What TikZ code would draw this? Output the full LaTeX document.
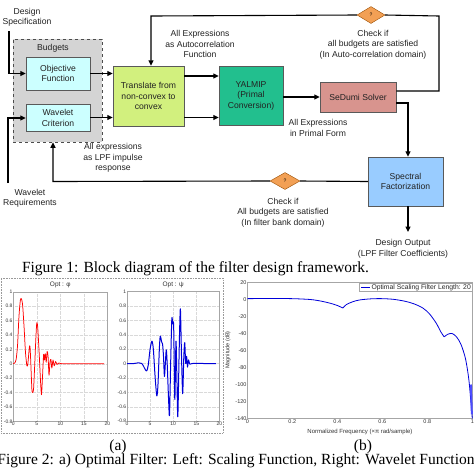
\documentclass[tikz,border=0pt]{standalone}
\usepackage{fontspec}
\setmainfont{Liberation Serif}
\newfontfamily\arial{Liberation Sans}
\usetikzlibrary{arrows.meta,shapes.geometric}
\definecolor{cyanbox}{HTML}{CCFFFF}
\definecolor{limebox}{HTML}{D2F07E}
\definecolor{tealbox}{HTML}{22BF8E}
\definecolor{pinkbox}{HTML}{D8948E}
\definecolor{bluebox}{HTML}{99CCFF}
\definecolor{orangedia}{HTML}{F2A055}
\definecolor{budgray}{HTML}{D4D4D4}
\definecolor{txt}{HTML}{222222}
\begin{document}
\begin{tikzpicture}[x=1pt,y=-1pt,
  lbl/.style={font=\arial\fontsize{8.6}{10.5}\selectfont, align=center, inner sep=0pt, text=txt},
  blk/.style={draw=gray!70!black, line width=0.5pt, align=center, inner sep=0pt,
              font=\arial\fontsize{8.6}{10.5}\selectfont, text=txt},
  dia/.style={shape=diamond, draw=orange!60!black, line width=0.4pt, fill=orangedia,
              minimum width=28pt, minimum height=17pt, inner sep=0pt,
              font=\arial\fontsize{5}{6}\selectfont},
  conn/.style={line width=1.1pt, black},
  arr/.style={conn, -{Triangle[length=5.5pt,width=5pt]}},
  gridl/.style={gray!30, line width=0.3pt, densely dotted},
  axl/.style={gray!70, line width=0.4pt},
  ticklbl/.style={font=\arial\fontsize{5}{6}\selectfont, inner sep=0.6pt, text=black!80},
  ttl/.style={font=\arial\fontsize{6.5}{7}\selectfont, inner sep=0pt, text=black!80},
  captxt/.style={font=\fontsize{15.5}{18}\selectfont, inner sep=0pt, text=black}
]
\useasboundingbox (0,0) rectangle (474,467);
\clip (0,0) rectangle (474,467);

% ---------------- block diagram ----------------
\node[draw=black!70, dashed, line width=0.6pt, fill=budgray, minimum width=89pt, minimum height=103pt] (bud) at (57.5,90.5) {};
\node[lbl] (budl) at (53,48) {Budgets};
\node[blk, fill=cyanbox, minimum width=64pt, minimum height=33pt] (obj) at (58,73.5) {Objective\\Function};
\node[blk, fill=cyanbox, minimum width=64pt, minimum height=27pt] (wav) at (58,118) {Wavelet\\Criterion};
\node[blk, fill=limebox, minimum width=71pt, minimum height=60pt] (trans) at (148.5,96) {Translate from\\non-convex to\\convex};
\node[blk, fill=tealbox, minimum width=64pt, minimum height=59pt] (yal) at (251,95.5) {YALMIP\\(Primal\\Conversion)};
\node[blk, fill=pinkbox, minimum width=76pt, minimum height=30pt] (sed) at (358,97) {SeDumi Solver};
\node[blk, fill=bluebox, minimum width=75pt, minimum height=49pt] (spec) at (405.5,181.5) {Spectral\\Factorization};
\node[dia] (d1) at (371,15) {?};
\node[dia, minimum width=30pt] (d2) at (285,181) {?};

\node[lbl] (ds) at (27,17.5) {Design\\Specification};
\node[lbl] (wr) at (30,198.5) {Wavelet\\Requirements};
\node[lbl] (t1) at (200,44) {All Expressions\\as Autocorrelation\\Function};
\node[lbl] (t2) at (373,44.5) {Check if\\all budgets are satisfied\\(In Auto-correlation domain)};
\node[lbl] (t3) at (318,128) {All Expressions\\in Primal Form};
\node[lbl] (t4) at (113,158) {All expressions\\as LPF impulse\\response};
\node[lbl] (t5) at (283,212.5) {Check if\\All budgets are satisfied\\(In filter bank domain)};
\node[lbl] (dout) at (403,249) {Design Output\\(LPF Filter Coefficients)};

\coordinate (dsin) at (9,31);
\coordinate (wrin) at (8,183);
\coordinate (r1) at (0,76);
\coordinate (r2) at (0,117.5);
\coordinate (c1) at (439,16);
\coordinate (c2) at (151,16);
\coordinate (c4) at (53,181.5);
\coordinate (oend) at (408,232);

\draw[arr] (dsin) |- (obj.west);
\draw[arr] (wrin) |- (wav.west);
\draw[arr] (obj.east) -- (obj.east -| trans.west);
\draw[arr] (wav.east |- r2) -- (trans.west |- r2);
\draw[arr] (trans.east |- r1) -- (yal.west |- r1);
\draw[arr] (trans.east |- r2) -- (yal.west |- r2);
\draw[arr] (yal.east |- sed.west) -- (sed.west);
\draw[conn] ([yshift=6pt]sed.east) -| (c1) -- (d1.east);
\draw[arr] (d1.west) -- (c2) -- (c2 |- trans.north);
\draw[arr] ([yshift=-6pt]sed.east) -| ([xshift=2.5pt]spec.north);
\draw[arr] ([xshift=2.5pt]spec.south) -- (oend);
\draw[conn] (spec.west) -- (d2.east);
\draw[arr] (d2.west) -- (c4) -- (c4 |- bud.south);

% ---------------- captions ----------------
\node[captxt, anchor=base] (cap1) at (195.5,272) {Figure 1: Block diagram of the filter design framework.};
\node[captxt, anchor=base] (capa) at (118,450) {(a)};
\node[captxt, anchor=base] (capb) at (363,450) {(b)};
\node[captxt, anchor=base] (cap2) at (236,464.5) {Figure 2: a) Optimal Filter: Left: Scaling Function, Right: Wavelet Function};

% ---------------- panel (a) ----------------
\node[draw=gray!80, densely dotted, line width=0.6pt, minimum width=222pt, minimum height=155pt, inner sep=0pt] (pa) at (112,355.5) {};

\begin{scope}[shift={(13.3pt,-363.7pt)},x=4.7pt,y=72pt]
  \foreach \u in {5,10,15} \draw[gridl] (\u,-0.8) -- (\u,1);
  \foreach \v in {-0.6,-0.4,-0.2,0,0.2,0.4,0.6,0.8} \draw[gridl] (0,\v) -- (20,\v);
  \draw[axl] (0,-0.8) rectangle (20,1);
  \foreach \v/\t [count=\i] in {1/1,0.8/0.8,0.6/0.6,0.4/0.4,0.2/0.2,0/0,-0.2/-0.2,-0.4/-0.4,-0.6/-0.6,-0.8/-0.8}
    \node[ticklbl, anchor=east] (ly\i) at (0,\v) {\t};
  \foreach \u [count=\i] in {0,5,10,15,20}
    \node[ticklbl, anchor=north] (lx\i) at (\u,-0.8) {\u};
  \node[ttl] (tl) at (10,1.09) {Opt : φ};
  \draw[red, line width=0.75pt, line join=round] plot[smooth, tension=0.45] coordinates {
    (0,0) (0.3,0.01) (0.6,0.06) (0.9,0.25) (1.2,0.65) (1.5,0.88) (1.75,0.9) (2.0,0.8)
    (2.3,0.5) (2.6,0.15) (2.9,-0.03) (3.1,0.0) (3.4,0.22) (3.55,0.24) (3.7,0.05)
    (3.95,-0.35) (4.1,-0.4) (4.3,-0.36) (4.5,-0.1) (4.8,0.35) (5.0,0.57) (5.2,0.5)
    (5.5,0.15) (5.8,-0.25) (6.0,-0.43) (6.2,-0.2) (6.45,0.13) (6.6,0.05) (6.8,0.14)
    (7.0,0.02) (7.2,0.17) (7.4,0.1) (7.6,-0.16) (7.8,0.02) (8.0,0.06) (8.2,-0.06)
    (8.45,0.05) (8.7,-0.03) (9.0,0.03) (9.3,-0.01) (9.7,0.01) (10.3,0) (14,0) (19.3,0)};
\end{scope}

\begin{scope}[shift={(127pt,-363.5pt)},x=4.62pt,y=72pt]
  \foreach \u in {5,10,15} \draw[gridl] (\u,-0.8) -- (\u,1);
  \foreach \v in {-0.6,-0.4,-0.2,0,0.2,0.4,0.6,0.8} \draw[gridl] (0,\v) -- (20,\v);
  \draw[axl] (0,-0.8) rectangle (20,1);
  \foreach \v/\t [count=\i] in {1/1,0.8/0.8,0.6/0.6,0.4/0.4,0.2/0.2,0/0,-0.2/-0.2,-0.4/-0.4,-0.6/-0.6,-0.8/-0.8}
    \node[ticklbl, anchor=east] (ry\i) at (0,\v) {\t};
  \foreach \u [count=\i] in {0,5,10,15,20}
    \node[ticklbl, anchor=north] (rx\i) at (\u,-0.8) {\u};
  \node[ttl] (tr) at (10,1.09) {Opt : ψ};
  \draw[blue!85!black, line width=1pt, line join=round] plot[smooth, tension=0.45] coordinates {
    (0,0) (1.5,0) (2.5,0.01) (3.2,0.0) (3.6,-0.04) (4.0,-0.09) (4.3,-0.1) (4.6,-0.02)
    (5.0,0.2) (5.4,0.31) (5.7,0.2) (6.1,-0.2) (6.45,-0.45) (6.7,-0.3) (7.0,0.2)
    (7.2,0.38) (7.5,0.3) (7.7,0.27) (7.9,0.1) (8.1,-0.18) (8.3,0.0) (8.5,0.19)
    (8.7,0.0) (9.0,-0.5) (9.2,-0.72) (9.45,0.0) (9.7,0.62) (9.9,0.55) (10.1,0.52)
    (10.35,-0.5) (10.6,0.31) (10.8,-0.2) (11.0,-0.74) (11.3,0.2) (11.55,0.76)
    (11.8,0.1) (12.05,-0.42) (12.3,0.1) (12.5,0.29) (12.7,0.0) (12.9,0.1) (13.1,-0.05)
    (13.3,0.05) (13.6,-0.01) (14.1,0) (17,0) (19.3,0)};
\end{scope}

% ---------------- panel (b) ----------------
\begin{scope}[shift={(247.3pt,-299.5pt)},x=225pt,y=0.85pt]
  \draw[axl] (0,-140) rectangle (1,20);
  \foreach \d [count=\i] in {20,0,-20,-40,-60,-80,-100,-120,-140}
    \node[ticklbl, anchor=east, font=\arial\fontsize{5.5}{6}\selectfont] (by\i) at (0,\d) {\d};
  \foreach \f [count=\i] in {0,0.2,0.4,0.6,0.8,1}
    \node[ticklbl, anchor=north, font=\arial\fontsize{5.5}{6}\selectfont] (bx\i) at (\f,-140) {\f};
  \draw[blue!85!black, line width=0.8pt] plot[smooth, tension=0.5] coordinates {
    (0,1) (0.1,1.2) (0.2,1) (0.28,0) (0.33,-2) (0.37,-4.5) (0.4,-7) (0.425,-10)};
  \draw[blue!85!black, line width=0.8pt] plot[smooth, tension=0.5] coordinates {
    (0.425,-10) (0.44,-6) (0.47,-2.5) (0.5,-0.5) (0.55,0.8) (0.6,1) (0.65,0.2) (0.7,-2)
    (0.74,-5) (0.78,-10) (0.81,-17) (0.84,-28) (0.86,-38) (0.875,-44)};
  \draw[blue!85!black, line width=0.8pt] plot[smooth, tension=0.5] coordinates {
    (0.875,-44) (0.89,-41) (0.91,-40) (0.93,-44) (0.95,-53) (0.97,-70) (0.985,-95)
    (0.995,-125) (1,-140)};
  \draw[blue!70, line width=2pt] (0.994,-100) -- (0.998,-135);
\end{scope}
\node[ticklbl, rotate=90, font=\arial\fontsize{5.5}{6}\selectfont] (ylab) at (228,350) {Magnitude (dB)};
\node[ticklbl, font=\arial\fontsize{6}{7}\selectfont] (xlab) at (360,432) {Normalized Frequency (×π rad/sample)};
\node[draw=gray!70, fill=white, line width=0.4pt, inner sep=1pt, anchor=north east,
      font=\arial\fontsize{6.8}{8}\selectfont, text=black!85] (leg) at (472,283)
      {\hspace*{11pt}Optimal Scaling Filter Length: 20};
\draw[blue!85!black, line width=0.8pt] ([xshift=2pt]leg.west) -- ([xshift=11pt]leg.west);
\end{tikzpicture}
\end{document}
